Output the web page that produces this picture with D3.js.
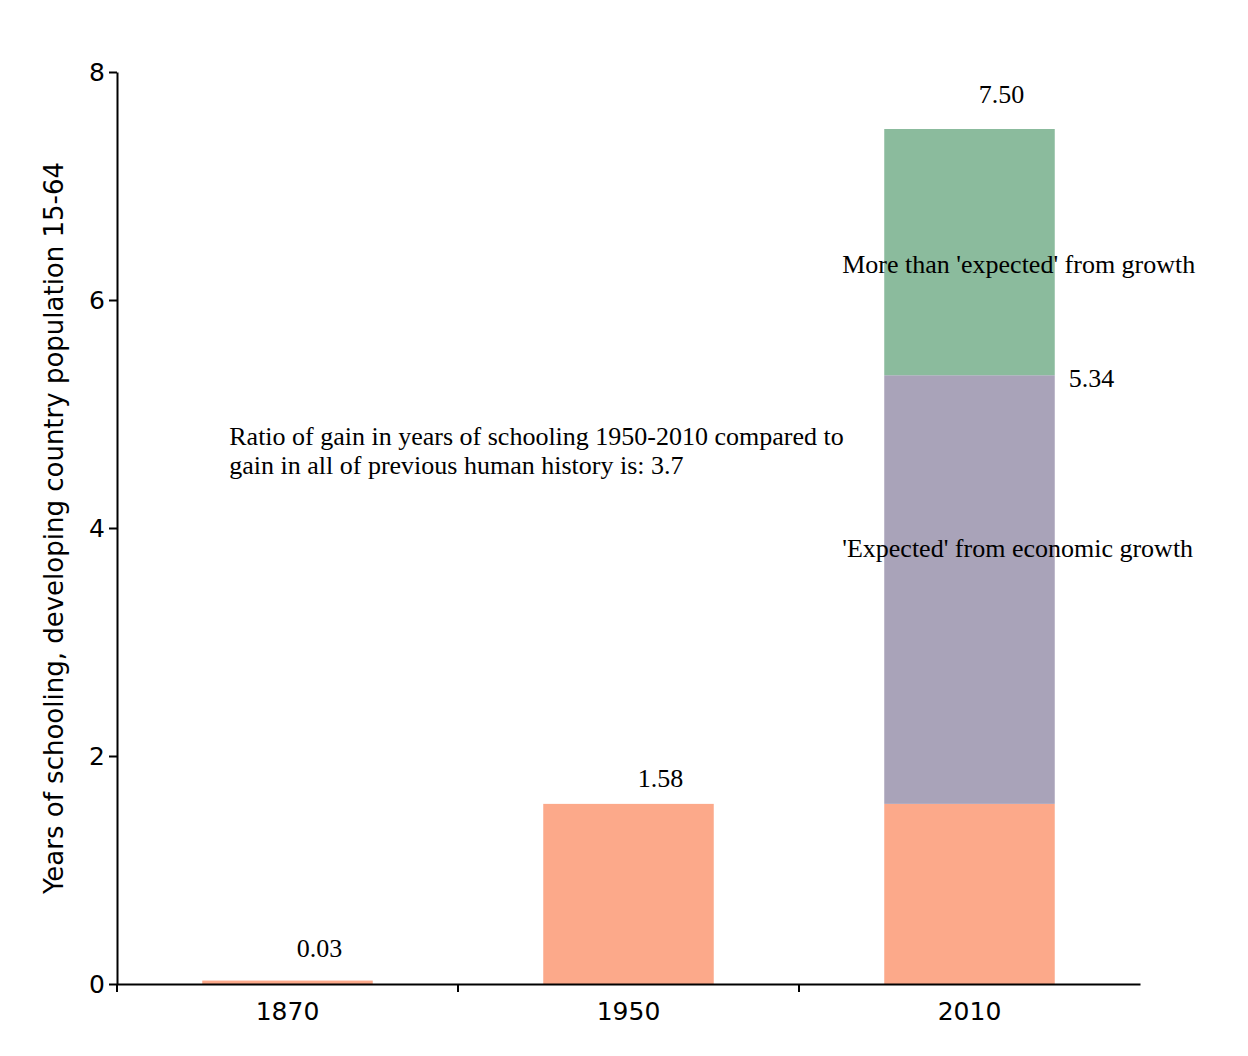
<!DOCTYPE html>
<html>
<head>
<meta charset="utf-8">
<script src="https://cdn.jsdelivr.net/npm/d3@7"></script>
<style>
  body { margin: 0; background: #fff; }
  .axis text { font-family: Verdana, "DejaVu Sans", sans-serif; font-size: 25px; fill: #000; }
  .axis path, .axis line { stroke: #000; stroke-width: 2px; }
  .lbl { font-family: "Times New Roman", "Liberation Serif", serif; font-size: 26px; fill: #000; }
</style>
</head>
<body>
<div id="chart"></div>
<script>
// data
var years = ["1870", "1950", "2010"];
var base = [0.03, 1.58, 1.58];        // orange
var expected = [0, 0, 3.76];          // purple, 'expected' from growth
var extra = [0, 0, 2.16];             // green, more than expected
var totals = ["0.03", "1.58", "7.50"];
var yTicks = [0, 2, 4, 6, 8];
var colors = ["#fca98a", "#a9a3b9", "#8bbb9d"];

var width = 1248, height = 1056;
var margin = {top: 72, right: 108, bottom: 72, left: 117};
var w = width - margin.left - margin.right,
    h = height - margin.top - margin.bottom;

var svg = d3.select("#chart")
    .append("svg")
    .attr("width", width)
    .attr("height", height)
    .append("g")
    .attr("transform", "translate(" + margin.left + "," + margin.top + ")");

var x = d3.scaleBand()
    .domain(years)
    .range([0, w])
    .paddingInner(0.5)
    .paddingOuter(0.25);

var y = d3.scaleLinear()
    .domain([0, 8])
    .range([h, 0]);

var rows = years.map(function(d, i) {
  return {year: d, base: base[i], expected: expected[i], extra: extra[i]};
});
var stack = d3.stack().keys(["base", "expected", "extra"])(rows);

svg.selectAll(".layer")
    .data(stack)
    .enter().append("g")
    .attr("class", "layer")
    .style("fill", function(d, i) { return colors[i]; })
    .selectAll("rect")
    .data(function(d) { return d; })
    .enter().append("rect")
    .attr("x", function(d) { return x(d.data.year); })
    .attr("width", x.bandwidth())
    .attr("y", function(d) { return y(d[1]); })
    .attr("height", function(d) { return y(d[0]) - y(d[1]); });

// value labels above bars
var labelOff = [24, 17, 26];
svg.selectAll(".tot")
    .data(years)
    .enter().append("text")
    .attr("class", "lbl")
    .attr("text-anchor", "middle")
    .attr("x", function(d) { return x(d) + x.bandwidth() / 2 + 32; })
    .attr("y", function(d, i) {
      return y(base[i] + expected[i] + extra[i]) - labelOff[i];
    })
    .text(function(d, i) { return totals[i]; });

// 5.34 label at the right of the purple segment
svg.append("text")
    .attr("class", "lbl")
    .attr("x", x("2010") + x.bandwidth() + 14)
    .attr("y", y(base[2] + expected[2]) + 12)
    .text("5.34");

svg.append("text")
    .attr("class", "lbl")
    .attr("x", x("2010") - 42)
    .attr("y", y(6.24))
    .text("More than 'expected' from growth");

svg.append("text")
    .attr("class", "lbl")
    .attr("x", x("2010") - 42)
    .attr("y", y(3.75))
    .text("'Expected' from economic growth");

var note = svg.append("text")
    .attr("class", "lbl")
    .attr("x", x("1870") + 27)
    .attr("y", y(4.73));
note.append("tspan").text("Ratio of gain in years of schooling 1950-2010 compared to");
note.append("tspan")
    .attr("x", x("1870") + 27)
    .attr("dy", 29)
    .text("gain in all of previous human history is: 3.7");

// axes
svg.append("g")
    .attr("class", "axis")
    .call(d3.axisLeft(y).tickValues(yTicks).tickSize(8).tickSizeOuter(0).tickPadding(4));

var xAxis = svg.append("g")
    .attr("class", "axis")
    .attr("transform", "translate(0," + h + ")")
    .call(d3.axisBottom(x).tickSize(0).tickSizeOuter(0).tickPadding(18));

// tick marks sit on the category boundaries
xAxis.selectAll(".sep")
    .data(years)
    .enter().append("line")
    .attr("x1", function(d) { return x(d) - x.step() * 0.25; })
    .attr("x2", function(d) { return x(d) - x.step() * 0.25; })
    .attr("y1", 0)
    .attr("y2", 8);

svg.append("text")
    .attr("transform", "rotate(-90)")
    .attr("x", -h / 2)
    .attr("y", -54)
    .attr("text-anchor", "middle")
    .style("font-family", "Verdana, 'DejaVu Sans', sans-serif")
    .style("font-size", "26px")
    .text("Years of schooling, developing country population 15-64");
</script>
</body>
</html>
